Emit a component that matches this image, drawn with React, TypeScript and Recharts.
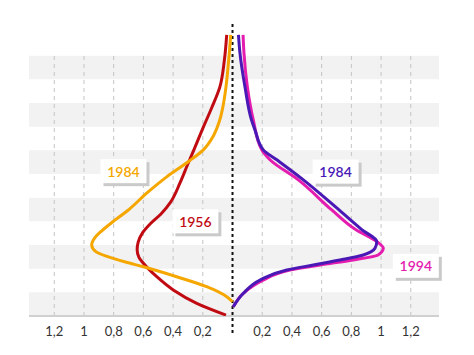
import React from 'react';
import { ScatterChart, Scatter, XAxis, YAxis, ReferenceArea, ReferenceLine, ReferenceDot } from 'recharts';

// heights (y) and values (x); left side is negative
const H_1956 = [297, 270, 242, 220, 200, 180, 160, 140, 120, 108, 98, 88, 78, 70, 62, 55.7, 41.5, 27.5, 13.4, 1];
const V_1956 = [-0.039, -0.055, -0.085, -0.14, -0.195, -0.248, -0.302, -0.355, -0.418, -0.48, -0.55, -0.605, -0.635, -0.642, -0.63, -0.6, -0.51, -0.399, -0.241, -0.044];

const H_1984_LEFT = [297, 270, 242, 220, 207, 190, 175, 163, 147, 129.7, 112, 101.5, 90, 83, 75, 68, 62.7, 57, 52, 41.5, 31, 20.4, 15];
const V_1984_LEFT = [-0.012, -0.026, -0.044, -0.066, -0.086, -0.13, -0.2, -0.298, -0.443, -0.578, -0.701, -0.79, -0.88, -0.925, -0.948, -0.92, -0.84, -0.72, -0.6, -0.376, -0.174, -0.039, 0];

const H_1984_RIGHT = [297, 278, 242, 207, 196.6, 175.5, 165, 143.8, 112, 91, 78.5, 71.5, 64.5, 59.2, 53.9, 48.6, 38, 24, 9.8];
const V_1984_RIGHT = [0.04, 0.05, 0.084, 0.128, 0.151, 0.207, 0.298, 0.477, 0.717, 0.872, 0.971, 0.959, 0.88, 0.724, 0.544, 0.365, 0.185, 0.073, 0.005];

const H_1994 = [297, 278, 242, 207, 175.5, 165, 143.8, 112, 91, 78.5, 71.5, 64.5, 59.2, 53.9, 48.6, 38, 24, 9.8];
const V_1994 = [0.071, 0.077, 0.1, 0.14, 0.197, 0.252, 0.443, 0.668, 0.831, 0.973, 1.015, 0.98, 0.813, 0.589, 0.387, 0.207, 0.073, 0.005];

const X_TICKS = [-1.2, -1, -0.8, -0.6, -0.4, -0.2, 0.2, 0.4, 0.6, 0.8, 1, 1.2];
const Y_TICKS = [50, 100, 150, 200, 250];
const BAND_STARTS = [0, 50, 100, 150, 200, 250];
const BAND_SIZE = 25;

const LABELS = [
  { text: '1984', color: '#F5A700', x: -0.734, y: 153 },
  { text: '1956', color: '#C10B13', x: -0.25, y: 100 },
  { text: '1984', color: '#4A18B5', x: 0.694, y: 152.5 },
  { text: '1994', color: '#E41CB0', x: 1.234, y: 53 },
];

const FONT = 'Lato, "Open Sans", sans-serif';

const toPoints = (hs: number[], vs: number[]) => hs.map((h, i) => ({ x: vs[i], y: h }));

const SERIES = [
  { name: '1956', color: '#C10B13', data: toPoints(H_1956, V_1956) },
  { name: '1984 gauche', color: '#F5A700', data: toPoints(H_1984_LEFT, V_1984_LEFT) },
  { name: '1994', color: '#E41CB0', data: toPoints(H_1994, V_1994) },
  { name: '1984 droite', color: '#4A18B5', data: toPoints(H_1984_RIGHT, V_1984_RIGHT) },
];

const formatX = (v: number) => String(Math.abs(v)).replace('.', ',');

const HeightTick = (props: any) => {
  const { y, payload } = props;
  return (
    <text x={248} y={y - 4} dominantBaseline="middle" textAnchor="start" fontSize={13} fill="#333" fontFamily={FONT}>
      {payload.value}
    </text>
  );
};

const noDot = () => <g />;

const LabelBox = (text: string, color: string) => (props: any) => {
  const { cx, cy } = props;
  const w = 46;
  const h = 24;
  return (
    <g>
      <rect x={cx - w / 2 + 3} y={cy - h / 2 + 3} width={w} height={h} fill="#cacaca" />
      <rect x={cx - w / 2} y={cy - h / 2} width={w} height={h} fill="#fff" />
      <text x={cx} y={cy} textAnchor="middle" dominantBaseline="central" fontSize={14} fontWeight={600} fill={color} fontFamily={FONT}>
        {text}
      </text>
    </g>
  );
};

export default function App() {
  return (
    <div style={{ position: 'absolute', left: 0, top: 0 }}>
      <ScatterChart width={474} height={355} margin={{ top: 32, right: 35, bottom: 9, left: 29 }}>
        {BAND_STARTS.map((b) => (
          <ReferenceArea key={`band-${b}`} y1={b} y2={b + BAND_SIZE} fill="#f2f2f2" fillOpacity={1} stroke="none" />
        ))}
        {X_TICKS.map((t) => (
          <ReferenceLine
            key={`grid-${t}`}
            segment={[{ x: t, y: 0 }, { x: t, y: 275 }]}
            stroke="#c4c4c4"
            strokeDasharray="4 4"
          />
        ))}
        <XAxis
          type="number"
          dataKey="x"
          domain={[-1.37, 1.39]}
          allowDataOverflow
          ticks={X_TICKS}
          tickFormatter={formatX}
          tickLine={false}
          tickMargin={5}
          axisLine={{ stroke: '#d0d0d0', strokeWidth: 2 }}
          tick={{ fontSize: 13, fill: '#333', fontFamily: FONT }}
          height={30}
        />
        <YAxis
          type="number"
          dataKey="y"
          domain={[0, 300]}
          allowDataOverflow
          ticks={Y_TICKS}
          width={0}
          axisLine={false}
          tickLine={false}
          tick={<HeightTick />}
        />
        <ReferenceLine
          segment={[{ x: 0, y: -18 }, { x: 0, y: 310 }]}
          ifOverflow="visible"
          stroke="#111"
          strokeWidth={2}
          strokeDasharray="3 3"
        />
        {SERIES.map((s) => (
          <Scatter
            key={s.name}
            name={s.name}
            data={s.data}
            fill={s.color}
            line={{ stroke: s.color, strokeWidth: 3 }}
            lineJointType="monotoneY"
            shape={noDot}
            isAnimationActive={false}
          />
        ))}
        {LABELS.map((l, i) => (
          <ReferenceDot key={`lab-${i}`} x={l.x} y={l.y} shape={LabelBox(l.text, l.color)} />
        ))}
      </ScatterChart>
    </div>
  );
}
